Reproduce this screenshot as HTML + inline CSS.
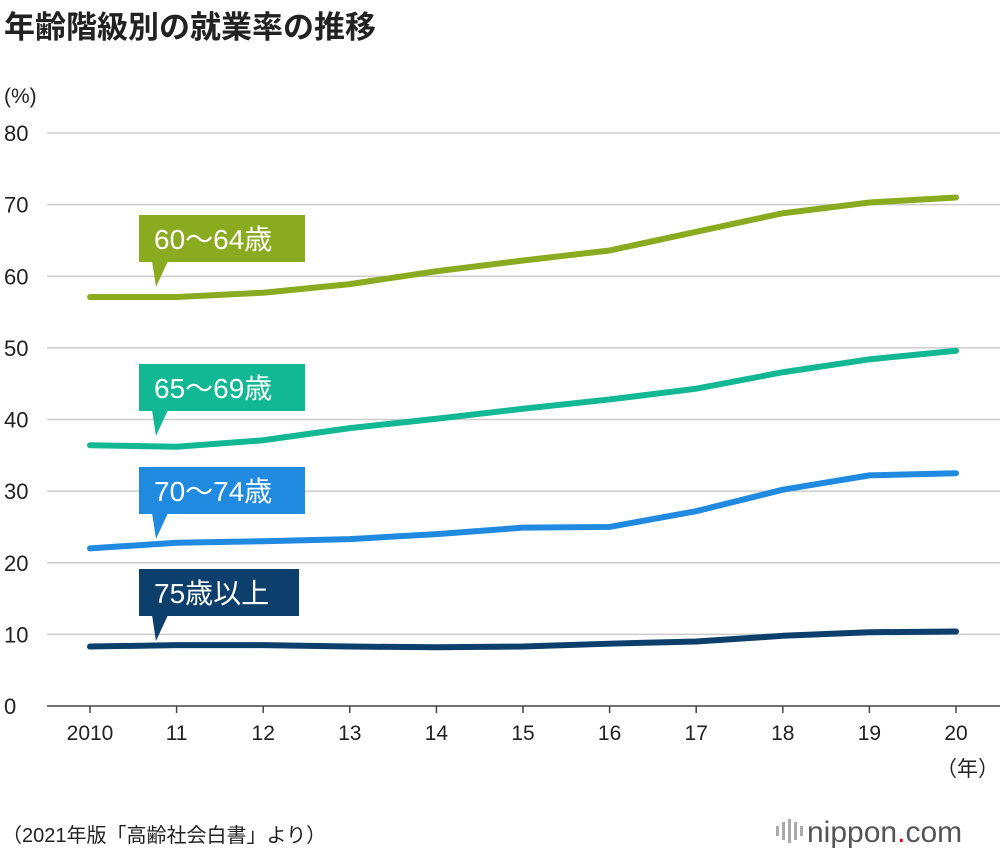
<!DOCTYPE html>
<html><head><meta charset="utf-8"><style>
body{margin:0;background:#fff;}
svg{display:block;font-family:"Liberation Sans","Noto Sans CJK JP",sans-serif;}
</style></head><body>
<svg width="1000" height="856" viewBox="0 0 1000 856">
<text x="4" y="38" font-size="31" font-weight="bold" fill="#222">年齢階級別の就業率の推移</text>
<text x="4" y="103" font-size="21" fill="#222">(%)</text>
<g id="grid"></g>
<g id="lines"></g>
<g id="labels"></g>
<text x="936" y="776" font-size="21" fill="#222">（年）</text>
<text x="2" y="842" font-size="20" fill="#222">（2021年版「高齢社会白書」より）</text>
<g>
<g fill="#aaa"><rect x="776" y="826" width="3" height="10"/><rect x="782" y="822" width="3" height="18"/><rect x="788" y="819" width="3" height="24"/><rect x="794" y="822" width="3" height="18"/><rect x="800" y="826" width="3" height="10"/></g>
<text x="807" y="842" font-size="30" fill="#555">nippon<tspan fill="#e60012">.</tspan>com</text>
</g>
</svg>
<script>
const years=["2010","11","12","13","14","15","16","17","18","19","20"];
const yTicks=[0,10,20,30,40,50,60,70,80];
const s6064=[57.1,57.1,57.7,58.9,60.7,62.2,63.6,66.2,68.8,70.3,71.0];
const s6569=[36.4,36.2,37.1,38.8,40.1,41.5,42.8,44.3,46.6,48.4,49.6];
const s7074=[22.0,22.8,23.0,23.3,24.0,24.9,25.0,27.2,30.2,32.2,32.5];
const s75=[8.3,8.5,8.5,8.3,8.2,8.3,8.7,9.0,9.8,10.3,10.4];
const seriesNames=["60〜64歳","65〜69歳","70〜74歳","75歳以上"];
const NS="http://www.w3.org/2000/svg";
function x(i){return 90+i*86.6;}
function y(v){return 706-v*7.1625;}
function mk(tag,attrs,parent){const e=document.createElementNS(NS,tag);for(const k in attrs)e.setAttribute(k,attrs[k]);parent.appendChild(e);return e;}
const grid=document.getElementById('grid');
yTicks.forEach(t=>{
 const l=mk('line',{x1:47,x2:1000,y1:y(t),y2:y(t),stroke:t===0?'#444':'#ccc','stroke-width':1.5},grid);
 
 
 const tx=mk('text',{x:4,y:y(t)+8,'font-size':22,fill:'#222'},grid);tx.textContent=t;
 
 
});
years.forEach((yr,i)=>{
 const tk=mk('line',{x1:x(i),x2:x(i),y1:706,y2:713,stroke:'#444','stroke-width':1.5},grid);
 
 
 const tx=mk('text',{x:x(i),y:740,'font-size':21,fill:'#222','text-anchor':'middle'},grid);tx.textContent=yr;
 
 
});
const all=[s6064,s6569,s7074,s75];
const colors=['#8aab1f','#12b894','#1f8ae0','#0c3f6b'];
const boxY=[215,364,467,569];
const boxW=[166,166,166,160];
const lines=document.getElementById('lines'),labels=document.getElementById('labels');
all.forEach((s,k)=>{
 const p=mk('polyline',{points:s.map((v,i)=>x(i)+','+y(v)).join(' '),fill:'none',stroke:colors[k],'stroke-width':6,'stroke-linejoin':'round','stroke-linecap':'round'},lines);
 
 
 const g=mk('g',{},labels);
 
 
 const by=boxY[k];
 mk('rect',{x:139,y:by,width:boxW[k],height:47,fill:colors[k]},g);
 mk('polygon',{points:`152,${by+46} 168,${by+46} 156,${by+72}`,fill:colors[k]},g);
 const t=mk('text',{x:154,y:by+34,'font-size':28,fill:'#fff'},g);t.textContent=seriesNames[k];
});
</script>
</body></html>
